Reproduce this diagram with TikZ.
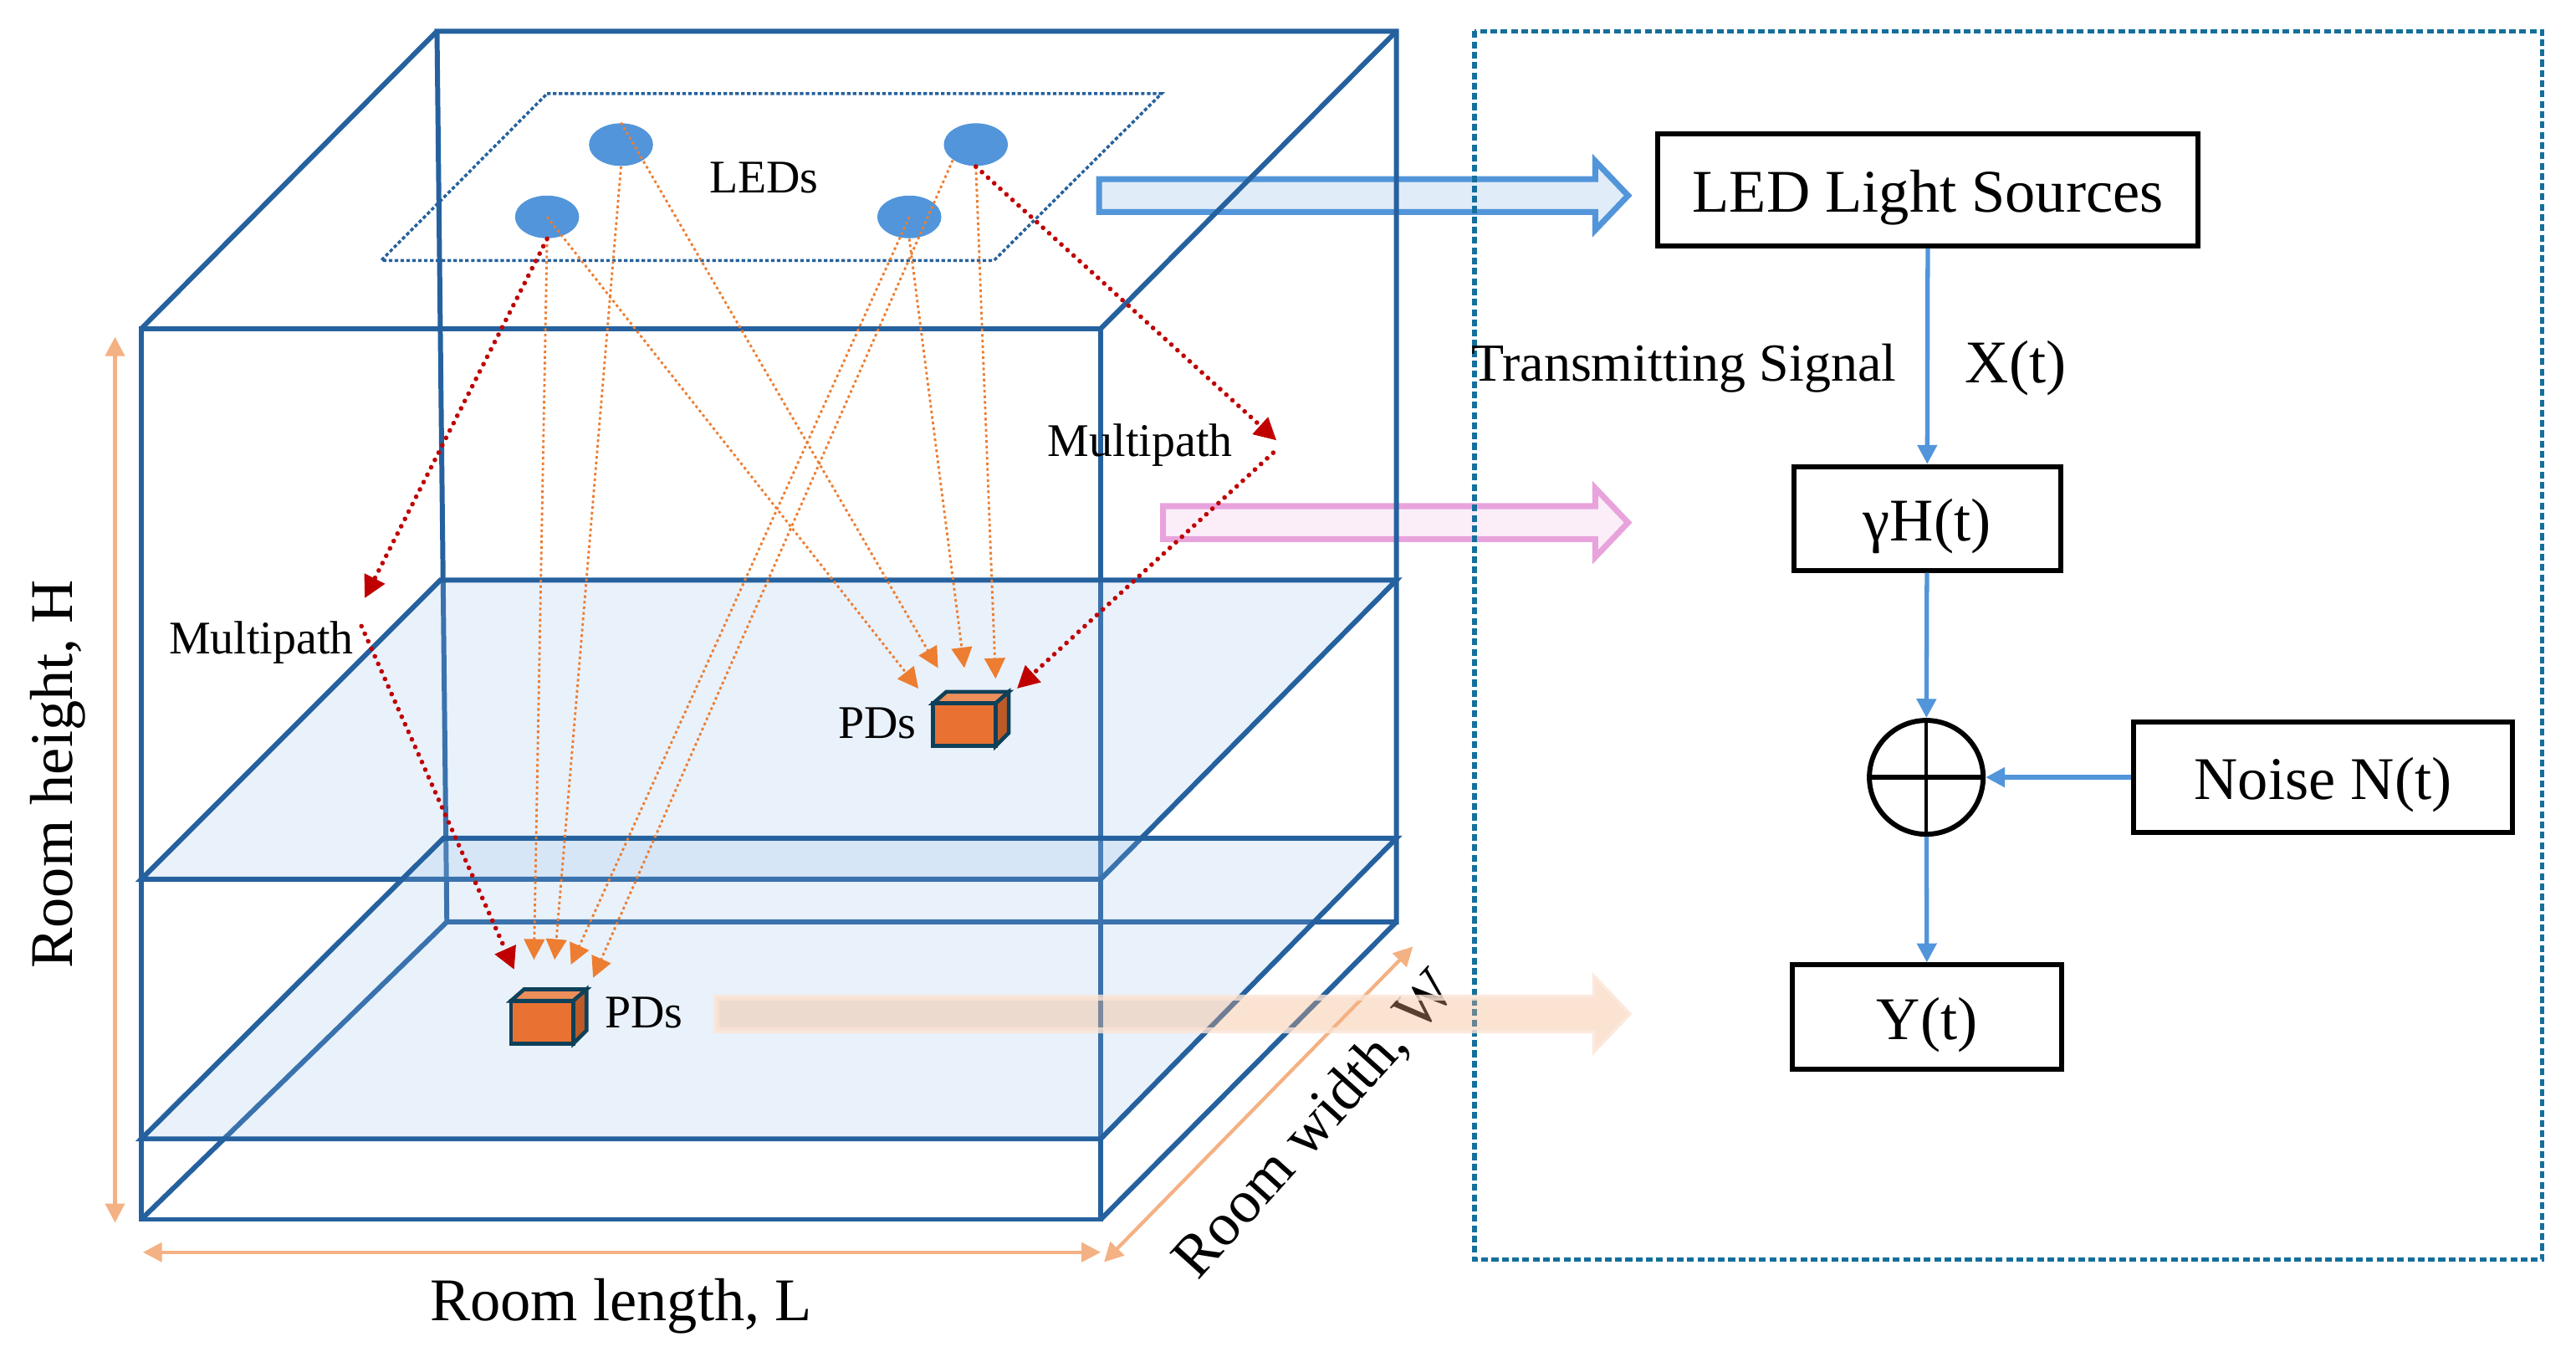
\documentclass[tikz,border=0pt]{standalone}
\usepackage{fontspec}
\setmainfont{Liberation Serif}
\usetikzlibrary{arrows.meta,shapes.geometric}

\definecolor{roomblue}{HTML}{25619E}
\definecolor{planeblue}{HTML}{8FBAEA}
\definecolor{ledblue}{HTML}{5295DA}
\definecolor{rayorange}{HTML}{ED7D31}
\definecolor{rayred}{HTML}{C00000}
\definecolor{sizepeach}{HTML}{F4B183}
\definecolor{frameteal}{HTML}{156F9C}
\definecolor{pdedge}{HTML}{0E4059}
\definecolor{pdfront}{HTML}{E97132}
\definecolor{pdtop}{HTML}{EC8F5A}
\definecolor{pdside}{HTML}{BC5B28}
\definecolor{pinkedge}{HTML}{E8A3DC}

\tikzset{
	bigtext/.style={font=\fontsize{20.6}{24}\selectfont},
	midtext/.style={font=\fontsize{18.2}{22}\selectfont},
	smalltext/.style={font=\fontsize{15.9}{19}\selectfont},
	roomline/.style={draw=roomblue,line width=1.7pt,line join=miter},
	plane/.style={roomline,fill=planeblue,fill opacity=.2},
	led/.style={ellipse,fill=ledblue,minimum width=.766cm,minimum height=.51cm,inner sep=0pt},
	ray/.style={rayorange,line width=.8pt,dash pattern=on .9pt off 1pt,-{Triangle[length=7pt,width=7pt]}},
	multi/.style={rayred,line width=1.6pt,line cap=round,dash pattern=on .01pt off 2.8pt,-{Triangle[length=7.5pt,width=7.5pt]}},
	sizeline/.style={sizepeach,line width=1.2pt,{Triangle[length=6.5pt,width=6.5pt]}-{Triangle[length=6.5pt,width=6.5pt]}},
	blockbox/.style={draw=black,line width=1.7pt,bigtext,inner sep=0pt,text height=19pt,text depth=4pt},
	link/.style={ledblue,line width=1.5pt,-{Triangle[length=6.5pt,width=6.5pt]}},
	fatarrow/.style={line width=2pt,line join=miter},
	pdcube/.pic={
		\draw[pdedge,line width=1.3pt,line join=miter,fill=pdtop] (0,0) -- (8,-7) -- (46,-7) -- (38,0) -- cycle;
		\draw[pdedge,line width=1.3pt,line join=miter,fill=pdside] (38,0) -- (46,-7) -- (46,18) -- (38,26) -- cycle;
		\draw[pdedge,line width=1.3pt,line join=miter,fill=pdfront] (0,0) rectangle (38,26);
	}
}

\newcommand{\blockarrow}[3]{%
	\path[#1] (#2,#3-10) -- (971,#3-10) -- (971,#3-21) -- (991,#3) -- (971,#3+21) -- (971,#3+10) -- (#2,#3+10) -- cycle;
}

\begin{document}
\begin{tikzpicture}[x=0.0196429cm,y=-0.0196429cm]
	\useasboundingbox (0,-1) rectangle (1568,821.2);

	% block arrows into the model
	\blockarrow{fatarrow,draw=ledblue,fill=ledblue!18!white}{669}{118}
	\blockarrow{fatarrow,draw=pinkedge,fill=pinkedge!18!white}{708}{317}

	% room
	\draw[roomline] (86,199) rectangle (670,741);
	\draw[roomline] (272,560) -- (266,18) -- (850,18) -- (850,560) -- cycle;
	\draw[roomline] (86,199) -- (266,18);
	\draw[roomline] (670,199) -- (850,18);
	\draw[roomline] (670,741) -- (850,560);
	\draw[roomline] (86,741) -- (272,560);
	\draw[plane] (86,534) -- (670,534) -- (850,352) -- (268,352) -- cycle;
	\draw[plane] (86,692) -- (670,692) -- (850,509) -- (270,509) -- cycle;
	\draw[roomblue,line width=1pt,dash pattern=on 1.2pt off .8pt] (333,56) -- (707,56) -- (605,157.5) -- (232,157.5) -- cycle;

	\node[led] (led1) at (378,87)  {};
	\node[led] (led2) at (594,87)  {};
	\node[led] (led3) at (333,131) {};
	\node[led] (led4) at (553.5,131) {};

	\pic (pdlow) at (311,608) {pdcube};
	\pic (pdup)  at (568,427) {pdcube};

	\node[smalltext] (ledtext)  at (465,107) {LEDs};
	\node[smalltext] (pdlowtext) at (392,615) {PDs};
	\node[smalltext] (pduptext)  at (534,439) {PDs};
	\node[smalltext] (multl) at (159,390) {Multipath};
	\node[smalltext] (multr) at (694,270) {Multipath};

	\coordinate (up1)  at (559,418);
	\coordinate (up2)  at (571,405.5);
	\coordinate (up3)  at (587,405.5);
	\coordinate (up4)  at (606,412);
	\coordinate (low1) at (325,583);
	\coordinate (low2) at (337.6,583);
	\coordinate (low3) at (347.5,586);
	\coordinate (low4) at (361,594);
	\foreach \from/\to in {led3.center/up1,led1.north/up2,led4.south/up3,led2.south/up4,
		led3.south/low1,led1.south/low2,led4.center/low3,led2.south west/low4}
		\draw[ray] (\from) -- (\to);

	% reflected paths
	\coordinate (bounce1) at (222,363);
	\coordinate (bounce2) at (220,380);
	\coordinate (bounce3) at (777,267);
	\coordinate (bounce4) at (775,274.5);
	\coordinate (pdtip1)  at (313,589);
	\coordinate (pdtip2)  at (619,418);
	\draw[multi] (led3.south) -- (bounce1);
	\draw[multi] (bounce2) -- (pdtip1);
	\draw[multi] (led2.south) -- (bounce3);
	\draw[multi] (bounce4) -- (pdtip2);

	% room size
	\coordinate (hgt1) at (70,204);
	\coordinate (hgt2) at (70,743);
	\coordinate (len1) at (87,761);
	\coordinate (len2) at (670,761);
	\coordinate (wid1) at (672,767);
	\coordinate (wid2) at (860,575);
	\draw[sizeline] (hgt1) -- (hgt2);
	\draw[sizeline] (len1) -- (len2);
	\draw[sizeline] (wid1) -- (wid2);
	\node[bigtext,rotate=90] (hgttext) at (35,470) {Room height, H};
	\node[bigtext] (lentext) at (378,794) {Room length, L};
	\node[bigtext,rotate=48] (widtext) at (801,684) {Room width, W};

	% channel model
	\draw[frameteal,line width=1.5pt,dash pattern=on 2.3pt off 1.2pt] (897.5,18) rectangle (1547.5,765.5);
	\node[blockbox,minimum width=6.46cm,minimum height=1.34cm] (source) at (1173.5,114.5) {LED Light Sources};
	\node[blockbox,minimum width=3.19cm,minimum height=1.24cm] (gain) at (1173,314.5) {γH(t)\hspace{.24cm}};
	\node[circle,draw=black,line width=1.7pt,minimum size=1.36cm,inner sep=0pt] (adder) at (1172.5,472) {};
	\node[blockbox,minimum width=4.53cm,minimum height=1.32cm] (noise) at (1414,472) {Noise N(t)};
	\node[blockbox,minimum width=3.22cm,minimum height=1.25cm] (output) at (1173,618) {Y(t)};
	\draw[line width=1.2pt] (adder.north) -- (adder.south);
	\draw[line width=1.7pt] (adder.west) -- (adder.east);
	\draw[link] (source) -- (gain);
	\draw[link] (gain) -- (adder);
	\draw[link] (noise) -- (adder);
	\draw[link] (adder) -- (output);
	\node[midtext] (txsignal) at (1025,223) {Transmitting Signal};
	\node[bigtext] (xsignal) at (1227,223) {X(t)};

	\blockarrow{fatarrow,draw=sizepeach!35!white,draw opacity=.8,fill=sizepeach,fill opacity=.36}{436}{616}
\end{tikzpicture}
\end{document}
